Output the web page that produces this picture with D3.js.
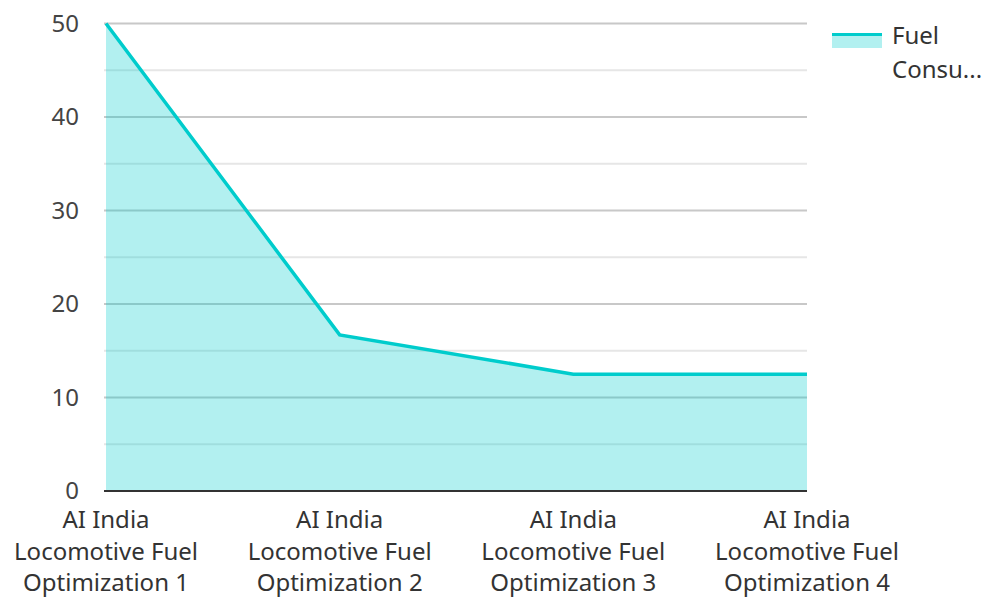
<!DOCTYPE html>
<html><head><meta charset="utf-8">
<script src="https://cdn.jsdelivr.net/npm/d3@7"></script>
<style>body{margin:0;background:#fff}svg{font-family:"Noto Sans","Open Sans",sans-serif}</style>
</head><body><svg width="986" height="597"></svg>
<script>
const categories = ["AI India Locomotive Fuel Optimization 1","AI India Locomotive Fuel Optimization 2","AI India Locomotive Fuel Optimization 3","AI India Locomotive Fuel Optimization 4"];
const labelLines = [["AI India","Locomotive Fuel","Optimization 1"],["AI India","Locomotive Fuel","Optimization 2"],["AI India","Locomotive Fuel","Optimization 3"],["AI India","Locomotive Fuel","Optimization 4"]];
const fuelValues = [50, 16.7, 12.5, 12.5];
const seriesName = "Fuel Consu...";
const yTicks = [0,10,20,30,40,50];
const yMinor = [5,15,25,35,45];

const svg = d3.select("svg");
const x = d3.scalePoint().domain(categories).range([106, 807]);
const y = d3.scaleLinear().domain([0,50]).range([491, 23.5]);
const color = "#00cccc";
const FS = 24;

const g = svg.append("g");
g.selectAll(".minor").data(yMinor).enter().append("line")
 .attr("x1",104).attr("x2",807).attr("y1",d=>y(d)).attr("y2",d=>y(d))
 .attr("stroke","#e6e6e6").attr("stroke-width",2);
g.selectAll(".major").data(yTicks.filter(d=>d>0)).enter().append("line")
 .attr("x1",104).attr("x2",807).attr("y1",d=>y(d)).attr("y2",d=>y(d))
 .attr("stroke","#c8c8c8").attr("stroke-width",2);

const area = d3.area().x((d,i)=>x(categories[i])).y0(y(0)).y1(d=>y(d));
const line = d3.line().x((d,i)=>x(categories[i])).y(d=>y(d));
g.append("path").datum(fuelValues).attr("d",area).attr("fill",color).attr("fill-opacity",0.3);
g.append("path").datum(fuelValues).attr("d",line).attr("fill","none").attr("stroke",color).attr("stroke-width",3.5);

g.append("line").attr("x1",104).attr("x2",807).attr("y1",y(0)).attr("y2",y(0)).attr("stroke","#333").attr("stroke-width",2);

g.selectAll(".ytl").data(yTicks).enter().append("text")
 .attr("x",79).attr("y",d=>y(d)).attr("dy","0.35em").attr("text-anchor","end")
 .attr("font-size",FS).attr("fill","#444").text(d=>d);

const xl = g.selectAll(".xtl").data(categories).enter().append("text")
 .attr("text-anchor","middle").attr("font-size",FS).attr("fill","#333");
xl.each(function(d,i){
  const t = d3.select(this);
  labelLines[i].forEach((s,k)=>{
    t.append("tspan").attr("x",x(d)).attr("y",528+k*31.5).text(s);
  });
});

const lg = svg.append("g");
lg.append("rect").attr("x",832).attr("y",33).attr("width",50).attr("height",15).attr("fill",color).attr("fill-opacity",0.3);
lg.append("line").attr("x1",832).attr("x2",882).attr("y1",34.5).attr("y2",34.5).attr("stroke",color).attr("stroke-width",3);
lg.append("text").attr("x",892).attr("y",44).attr("font-size",FS).attr("fill","#333").text("Fuel");
lg.append("text").attr("x",892).attr("y",78).attr("font-size",FS).attr("fill","#333").text("Consu...");
</script></body></html>
